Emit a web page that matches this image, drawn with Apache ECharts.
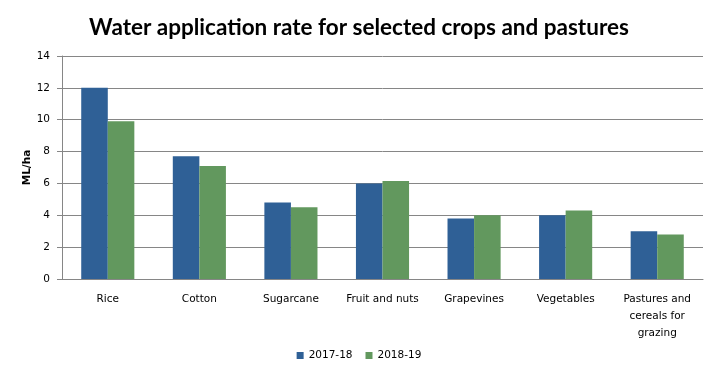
<!DOCTYPE html>
<html><head><meta charset="utf-8">
<script src="https://cdn.jsdelivr.net/npm/echarts@6/dist/echarts.min.js"></script>
<style>html,body{margin:0;padding:0;background:#fff}#c{width:718px;height:378px}</style>
</head><body><div id="c"></div>
<script>
var categories = ["Rice", "Cotton", "Sugarcane", "Fruit and nuts", "Grapevines", "Vegetables", "Pastures and\ncereals for\ngrazing"];
var s2017 = [12.0, 7.7, 4.8, 6.0, 3.8, 4.0, 3.0];
var s2018 = [9.9, 7.1, 4.5, 6.15, 4.0, 4.3, 2.8];
var seriesNames = ["2017-18", "2018-19"];
var yTicks = {min: 0, max: 14, interval: 2};

var chart = echarts.init(document.getElementById('c'), null, {renderer: 'canvas'});
var font = 'DejaVu Sans';
chart.setOption({
  animation: false,
  backgroundColor: '#fff',
  title: {
    text: 'Water application rate for selected crops and pastures',
    left: 'center', top: 11,
    textStyle: {fontFamily: 'Lato', fontWeight: 'bold', fontSize: 22.5, color: '#000'}
  },
  legend: {
    bottom: 12, left: 'center',
    itemWidth: 7, itemHeight: 7, itemGap: 13,
    icon: 'rect',
    textStyle: {fontFamily: font, fontSize: 10.5, color: '#000'},
    data: seriesNames
  },
  grid: {left: 62, right: 15, top: 56, bottom: 99, containLabel: false},
  xAxis: {
    type: 'category', data: categories,
    axisLine: {lineStyle: {color: '#868686'}},
    axisTick: {show: false},
    axisLabel: {interval: 0, margin: 12, color: '#000', fontFamily: font, fontSize: 10.5, lineHeight: 17}
  },
  yAxis: {
    type: 'value', min: yTicks.min, max: yTicks.max, interval: yTicks.interval,
    name: 'ML/ha', nameLocation: 'middle', nameGap: 29, nameMoveOverlap: false,
    nameTextStyle: {fontFamily: font, fontWeight: 'bold', fontSize: 10.5, color: '#000'},
    axisLine: {show: true, lineStyle: {color: '#868686'}},
    axisTick: {show: true, length: 5, lineStyle: {color: '#868686'}},
    splitLine: {lineStyle: {color: '#868686', width: 1}},
    axisLabel: {margin: 12, color: '#000', fontFamily: font, fontSize: 10.5}
  },
  series: [
    {name: seriesNames[0], type: 'bar', data: s2017, barGap: '0%', barCategoryGap: '42%',
     itemStyle: {color: '#2F6096'}},
    {name: seriesNames[1], type: 'bar', data: s2018, barGap: '0%', barCategoryGap: '42%',
     itemStyle: {color: '#62985E'}}
  ]
});
</script></body></html>
